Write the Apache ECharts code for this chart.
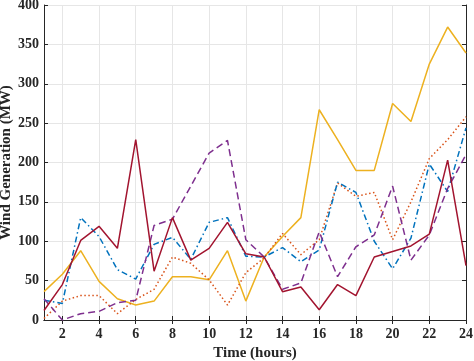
<!DOCTYPE html>
<html>
<head>
<meta charset="utf-8">
<script src="https://cdn.jsdelivr.net/npm/echarts@6/dist/echarts.min.js"></script>
<style>html,body{margin:0;padding:0;background:#fff}#c{width:474px;height:361px}</style>
</head>
<body>
<div id="c"></div>
<script>
var hours = [1,2,3,4,5,6,7,8,9,10,11,12,13,14,15,16,17,18,19,20,21,22,23,24];
var xTicks = [2,4,6,8,10,12,14,16,18,20,22,24];
var yellowVals = [36,58,88,49,27,19,24,55,55,51,88,24,80,106,130,267,229,190,190,275,252,325,372,339];
var redVals = [12,45,101,119,91,229,62,130,76,91,124,84,80,36,42,13,45,31,80,87,94,109,203,69];
var blueVals = [25,21,130,106,64,52,96,105,77,124,130,81,80,92,74,89,175,162,100,65,104,198,163,244];
var orangeVals = [2,24,31,31,8,26,39,80,72,51,19,60,79,110,83,102,174,157,162,102,150,205,229,258];
var purpleVals = [27,0,8,11,22,25,120,128,170,212,228,102,80,39,47,112,55,93,108,170,76,108,167,210];

function pts(v){ return hours.map(function(h,i){ return [h, v[i]]; }); }
var font = '"Liberation Serif", "Times New Roman", serif';
var axisCol = '#262626';
var chart = echarts.init(document.getElementById('c'), null, {renderer:'canvas'});
function mk(name, vals, color, type){
  return {name:name, type:'line', data:pts(vals), symbol:'none', smooth:false,
    lineStyle:{color:color, width:1.5, type:type}, itemStyle:{color:color}, animation:false};
}
chart.setOption({
  animation:false,
  grid:{left:44, right:8, top:5, bottom:41, containLabel:false, outerBoundsMode:'none'},
  xAxis:[{
    type:'value', min:1, max:24,
    name:'Time (hours)', nameLocation:'middle', nameGap:26,
    nameTextStyle:{fontFamily:font, fontWeight:'bold', fontSize:15, color:'#262626'},
    axisLine:{show:true, lineStyle:{color:axisCol, width:1}},
    axisTick:{show:true, inside:true, length:4, customValues:xTicks, lineStyle:{color:axisCol}},
    axisLabel:{customValues:xTicks, fontFamily:font, fontWeight:'bold', fontSize:14, color:'#262626', margin:7},
    splitLine:{show:true, lineStyle:{color:'#e6e6e6', width:1}}
  },{
    type:'value', min:1, max:24, position:'top',
    axisLine:{show:true, lineStyle:{color:axisCol, width:1}},
    axisTick:{show:true, inside:true, length:4, customValues:xTicks, lineStyle:{color:axisCol}},
    axisLabel:{show:false}, splitLine:{show:false}
  }],
  yAxis:[{
    type:'value', min:0, max:400, interval:50,
    name:'Wind Generation (MW)', nameLocation:'middle', nameGap:30, nameMoveOverlap:false,
    nameTextStyle:{fontFamily:font, fontWeight:'bold', fontSize:15, color:'#262626'},
    axisLine:{show:true, lineStyle:{color:axisCol, width:1}},
    axisTick:{show:true, inside:true, length:4, lineStyle:{color:axisCol}},
    axisLabel:{fontFamily:font, fontWeight:'bold', fontSize:14, color:'#262626', margin:5},
    splitLine:{show:true, lineStyle:{color:'#e6e6e6', width:1}}
  },{
    type:'value', min:0, max:400, interval:50, position:'right',
    axisLine:{show:true, lineStyle:{color:axisCol, width:1}},
    axisTick:{show:true, inside:true, length:4, lineStyle:{color:axisCol}},
    axisLabel:{show:false}, splitLine:{show:false}
  }],
  series:[
    mk('S1', yellowVals, '#EDB120', 'solid'),
    mk('S2', orangeVals, '#D95319', [1.5,2.5]),
    mk('S3', blueVals, '#0072BD', [6,3,1.5,3]),
    mk('S4', purpleVals, '#7E2F8E', [7,4]),
    mk('S5', redVals, '#A2142F', 'solid')
  ]
});
</script>
</body>
</html>
